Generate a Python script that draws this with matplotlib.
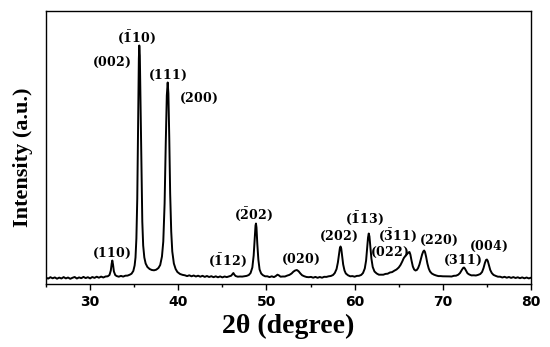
import matplotlib
matplotlib.use("Agg")
import matplotlib.pyplot as plt
from matplotlib.ticker import MultipleLocator

# ---- data (2theta in degrees, intensity in arbitrary units) ----
two_theta = [
    25.0, 25.25, 25.5, 25.75, 26.0, 26.25, 26.5, 26.75, 27.0, 27.25, 27.5, 27.75,
    28.0, 28.25, 28.5, 28.75, 29.0, 29.25, 29.5, 29.75, 30.0, 30.25, 30.5, 30.75,
    31.0, 31.25, 31.5, 31.75, 32.0, 32.2, 32.35, 32.45, 32.52, 32.6, 32.7, 32.85,
    33.0, 33.25, 33.5, 33.75, 34.0, 34.25, 34.5, 34.7, 34.9, 35.05, 35.15, 35.25,
    35.35, 35.45, 35.53, 35.58, 35.64, 35.72, 35.82, 35.92, 36.02, 36.15, 36.3, 36.5,
    36.75, 37.0, 37.25, 37.5, 37.75, 37.95, 38.15, 38.3, 38.45, 38.58, 38.7, 38.8,
    38.88, 38.98, 39.08, 39.2, 39.32, 39.5, 39.7, 39.9, 40.2, 40.5, 40.75, 41.0,
    41.25, 41.5, 41.75, 42.0, 42.25, 42.5, 42.75, 43.0, 43.25, 43.5, 43.75, 44.0,
    44.25, 44.5, 44.75, 45.0, 45.25, 45.5, 45.75, 46.0, 46.15, 46.25, 46.35, 46.5,
    46.75, 47.0, 47.25, 47.5, 47.75, 48.0, 48.2, 48.4, 48.55, 48.67, 48.76, 48.81,
    48.87, 48.96, 49.08, 49.22, 49.4, 49.6, 49.85, 50.1, 50.35, 50.6, 50.85, 51.05,
    51.25, 51.4, 51.6, 51.85, 52.1, 52.35, 52.6, 52.85, 53.05, 53.25, 53.45, 53.65,
    53.85, 54.05, 54.3, 54.55, 54.8, 55.05, 55.3, 55.55, 55.8, 56.05, 56.3, 56.55,
    56.8, 57.05, 57.3, 57.55, 57.75, 57.95, 58.1, 58.22, 58.32, 58.4, 58.48, 58.58,
    58.7, 58.85, 59.0, 59.25, 59.5, 59.75, 60.0, 60.25, 60.5, 60.75, 60.95, 61.15,
    61.3, 61.42, 61.52, 61.6, 61.68, 61.78, 61.9, 62.05, 62.25, 62.5, 62.75, 63.0,
    63.25, 63.5, 63.75, 64.0, 64.25, 64.5, 64.75, 65.0, 65.2, 65.4, 65.55, 65.7,
    65.85, 66.0, 66.1, 66.22, 66.32, 66.45, 66.6, 66.75, 66.9, 67.05, 67.2, 67.35,
    67.5, 67.65, 67.78, 67.88, 67.98, 68.1, 68.25, 68.4, 68.55, 68.75, 69.0, 69.25,
    69.5, 69.75, 70.0, 70.25, 70.5, 70.75, 71.0, 71.25, 71.5, 71.75, 71.95, 72.15,
    72.3, 72.4, 72.5, 72.65, 72.8, 73.0, 73.25, 73.5, 73.75, 74.0, 74.25, 74.45,
    74.62, 74.77, 74.9, 75.0, 75.1, 75.22, 75.38, 75.55, 75.75, 76.0, 76.25, 76.5,
    76.75, 77.0, 77.25, 77.5, 77.75, 78.0, 78.25, 78.5, 78.75, 79.0, 79.25, 79.5,
    79.75, 80.0,
]
intensity = [
    5.8, 4.9, 6.3, 5.2, 6.1, 4.8, 5.9, 5.0, 6.4, 5.1, 6.0, 4.7,
    5.7, 6.5, 5.0, 6.1, 5.3, 6.6, 5.4, 6.3, 5.1, 6.5, 5.6, 6.8,
    5.8, 6.9, 6.0, 7.0, 7.2, 8.5, 13.0, 20.0, 23.0, 19.0, 12.0, 8.5,
    7.5, 6.8, 7.6, 6.9, 7.8, 7.9, 8.8, 9.8, 12.5, 18.0, 26.0, 45.0,
    85.0, 160.0, 225.0, 238.0, 228.0, 180.0, 115.0, 62.0, 38.0, 26.0, 20.0, 16.5,
    14.5, 13.5, 13.2, 13.8, 15.5, 18.5, 27.0, 42.0, 80.0, 140.0, 188.0, 201.0,
    190.0, 145.0, 90.0, 52.0, 32.0, 20.0, 14.5, 11.5, 9.5, 8.6, 8.2, 7.4,
    8.2, 7.2, 8.0, 7.0, 7.8, 6.8, 7.7, 6.6, 7.5, 6.5, 7.3, 6.3,
    7.2, 6.2, 7.1, 6.1, 7.0, 6.4, 7.1, 7.8, 9.5, 10.5, 9.0, 7.5,
    6.8, 7.0, 6.9, 7.2, 7.6, 8.5, 10.5, 16.0, 28.0, 45.0, 58.0, 60.0,
    56.0, 40.0, 24.0, 14.0, 10.0, 8.3, 7.2, 7.2, 6.4, 7.2, 6.4, 7.4,
    8.8, 8.2, 6.8, 7.0, 7.0, 7.9, 8.6, 10.0, 11.8, 13.0, 13.5, 12.2,
    10.0, 8.2, 7.2, 6.5, 6.3, 6.6, 5.8, 6.6, 5.7, 6.5, 5.8, 6.7,
    6.6, 7.2, 7.5, 8.5, 10.5, 14.5, 21.0, 29.0, 35.0, 37.0, 35.0, 28.0,
    19.0, 13.0, 10.0, 8.2, 7.2, 7.4, 6.8, 7.6, 7.7, 8.6, 10.5, 15.0,
    23.0, 36.0, 46.0, 50.0, 47.0, 37.0, 25.0, 16.5, 12.0, 10.0, 8.8, 8.8,
    8.8, 9.6, 9.8, 11.0, 11.4, 12.8, 14.0, 16.0, 18.5, 22.0, 25.0, 27.0,
    28.5, 30.0, 31.0, 31.5, 29.0, 23.0, 17.0, 14.0, 13.0, 13.5, 15.5, 19.0,
    24.0, 29.0, 32.0, 33.0, 31.5, 27.0, 20.0, 15.0, 12.0, 10.0, 8.8, 8.0,
    7.4, 7.4, 7.2, 7.2, 7.1, 7.1, 7.0, 7.7, 7.8, 8.8, 10.5, 13.5,
    15.5, 16.0, 15.0, 12.5, 10.2, 9.0, 8.1, 8.2, 8.0, 8.6, 9.5, 11.5,
    15.5, 20.5, 23.5, 24.0, 22.5, 18.5, 13.5, 10.5, 8.6, 7.6, 6.8, 6.8,
    6.0, 6.7, 5.8, 6.5, 5.6, 6.4, 5.5, 6.2, 5.3, 6.1, 5.2, 6.0,
    5.1, 5.8,
]

# peak annotations: (label, 2theta position, intensity position)
peak_labels = [
    r"$(110)$", r"$(002)$", r"$(\bar{1}10)$",
    r"$(111)$", r"$(200)$", r"$(\bar{1}12)$",
    r"$(\bar{2}02)$", r"$(020)$", r"$(202)$",
    r"$(\bar{1}13)$", r"$(\bar{3}11)$", r"$(022)$",
    r"$(220)$", r"$(311)$", r"$(004)$",
]
label_x = [32.45, 32.45, 35.3, 38.75, 42.27, 45.6, 48.5, 53.8, 58.15,
           61.1, 64.8, 63.9, 69.5, 72.25, 75.2]
label_y = [30.5, 221, 246, 208, 185, 23.5, 69, 24.5, 47,
           65, 48.5, 31, 43.5, 23.5, 37.5]

x_ticks = [30, 40, 50, 60, 70, 80]

# ---- styling ----
plt.rcParams["mathtext.fontset"] = "custom"
plt.rcParams["mathtext.rm"] = "DejaVu Serif:bold"
plt.rcParams["mathtext.bf"] = "DejaVu Serif:bold"
plt.rcParams["mathtext.it"] = "DejaVu Serif:bold"

fig = plt.figure(figsize=(5.5, 3.47), dpi=100)
ax = fig.add_axes([46 / 550, 1 - 283.5 / 347, (531 - 46) / 550, (283.5 - 10.7) / 347])

ax.plot(two_theta, intensity, color="black", linewidth=1.4)

for lab, lx, ly in zip(peak_labels, label_x, label_y):
    ax.text(lx, ly, lab, ha="center", va="center", fontsize=9, color="black")

ax.set_xlim(25, 80)
ax.set_ylim(0, 272.8)
ax.set_xticks(x_ticks)
ax.xaxis.set_minor_locator(MultipleLocator(5))
ax.set_yticks([])
ax.tick_params(axis="x", which="major", direction="out", length=4, width=1,
               labelsize=10, pad=4)
ax.tick_params(axis="x", which="minor", direction="out", length=2.5, width=1)
for lbl in ax.get_xticklabels():
    lbl.set_fontfamily("DejaVu Sans")
    lbl.set_fontweight("bold")
for sp in ax.spines.values():
    sp.set_linewidth(1.0)

ax.set_xlabel("2θ (degree)", fontsize=20, fontweight="bold",
              family="Liberation Serif", labelpad=4)
ax.set_ylabel("Intensity (a.u.)", fontsize=16, fontweight="bold",
              family="Liberation Serif")
ax.yaxis.set_label_coords(-0.027, 0.464)

fig.savefig("out.png", dpi=100)
